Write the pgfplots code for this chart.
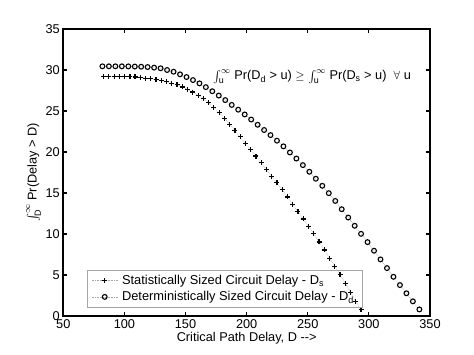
\documentclass[border=0pt]{standalone}
\usepackage{amsmath}
\usepackage{fontspec}
\setmainfont{Liberation Sans}
\usepackage{pgfplots}
\pgfplotsset{compat=1.18}
\usetikzlibrary{calc}
\begin{document}
\begin{tikzpicture}
\begin{axis}[
  scale only axis, width=366.7bp, height=287bp,
  xmin=50, xmax=350, ymin=0, ymax=35,
  xtick={50,100,...,350}, ytick={0,5,...,35},
  tick align=inside,
  axis line style={line width=1.8bp},
  major tick length=4bp,
  tick style={black, line width=1.2bp},
  /pgf/number format/assume math mode=true,
  tick label style={font=\fontsize{12.8}{14}\selectfont},
  label style={font=\fontsize{12.8}{14}\selectfont},
  xlabel={Critical Path Delay, D -{}->},
  ylabel={$\int_{\text{D}}^{\infty}$ Pr(Delay > D)},
  xlabel style={yshift=3bp},
  ylabel style={yshift=-2bp},
  legend style={at={(0.065,0.031)}, anchor=south west, draw=gray!70, fill=none, line width=0.6bp,
    font=\fontsize{12.9}{14}\selectfont, inner xsep=4bp, inner ysep=2.5bp, row sep=1.5bp,
    nodes={inner xsep=4bp}},
  legend cell align=left,
  legend image code/.code={\draw[mark repeat=2,mark phase=2,#1]
     plot coordinates {(0bp,0bp) (13bp,0bp) (26bp,0bp)};},
]
\addplot[densely dotted, gray!70, line width=0.6bp, mark=+, mark size=2.5bp,
  mark options={black, solid, line width=1.2bp}] coordinates {
(83.0,29.25) (87.3,29.25) (91.6,29.25) (95.9,29.25) (100.2,29.23) (104.5,29.20)
(108.7,29.15) (113.0,29.08) (117.3,29.00) (121.6,28.92) (125.9,28.82) (130.2,28.69)
(134.5,28.56) (138.8,28.38) (143.1,28.19) (147.4,27.93) (151.7,27.63) (156.0,27.31)
(160.3,26.92) (164.6,26.54) (168.9,25.99) (173.2,25.43) (177.5,24.80) (181.8,24.11)
(186.1,23.40) (190.4,22.63) (194.7,21.85) (199.0,21.08) (203.3,20.31) (207.6,19.51)
(211.9,18.69) (216.2,17.87) (220.5,17.06) (224.8,16.24) (229.1,15.38) (233.4,14.52)
(237.7,13.63) (242.0,12.73) (246.3,11.83) (250.6,10.92) (254.9,10.02) (259.2,9.03)
(263.5,8.05) (267.8,7.06) (272.1,6.07) (276.4,5.05) (280.7,3.98) (285.0,2.90)
(289.3,1.80) (293.6,0.75)
};
\addlegendentry{Statistically Sized Circuit Delay - D$_{\text{s}}$}
\addplot[densely dotted, gray!70, line width=0.6bp, mark=o, mark size=2.4bp,
  mark options={black, solid, line width=1.1bp}] coordinates {
(82.0,30.45) (87.3,30.45) (92.6,30.45) (97.9,30.45) (103.2,30.44) (108.5,30.42)
(113.7,30.40) (119.0,30.36) (124.3,30.29) (129.6,30.21) (134.9,30.00) (140.2,29.79)
(145.5,29.47) (150.8,29.14) (156.1,28.77) (161.4,28.37) (166.6,27.91) (171.9,27.41)
(177.2,26.88) (182.5,26.33) (187.8,25.74) (193.1,25.16) (198.4,24.58) (203.7,23.96)
(209.0,23.32) (214.3,22.68) (219.5,22.06) (224.8,21.38) (230.1,20.69) (235.4,19.94)
(240.7,19.20) (246.0,18.40) (251.3,17.59) (256.6,16.74) (261.9,15.88) (267.2,14.98)
(272.5,14.03) (277.8,13.02) (283.1,12.01) (288.4,11.00) (293.6,10.02) (298.9,9.01)
(304.2,7.96) (309.5,6.90) (314.8,5.84) (320.1,4.78) (325.4,3.77) (330.7,2.77)
(336.0,1.79) (341.3,0.80)
};
\addlegendentry{Deterministically Sized Circuit Delay - D$_{\text{d}}$\hspace{18bp}}
\node[anchor=base, font=\fontsize{12.8}{14}\selectfont] at (axis cs:253.5,28.8)
  {$\int_{\text{u}}^{\infty}$ Pr(D$_{\text{d}}$ > u) $\geq$ $\int_{\text{u}}^{\infty}$ Pr(D$_{\text{s}}$ > u)\ \ $\forall$ u};
\end{axis}
\useasboundingbox ($(current axis.south west)+(-63.3bp,-39bp)$) rectangle ($(current axis.north east)+(44bp,29bp)$);
\end{tikzpicture}
\end{document}
